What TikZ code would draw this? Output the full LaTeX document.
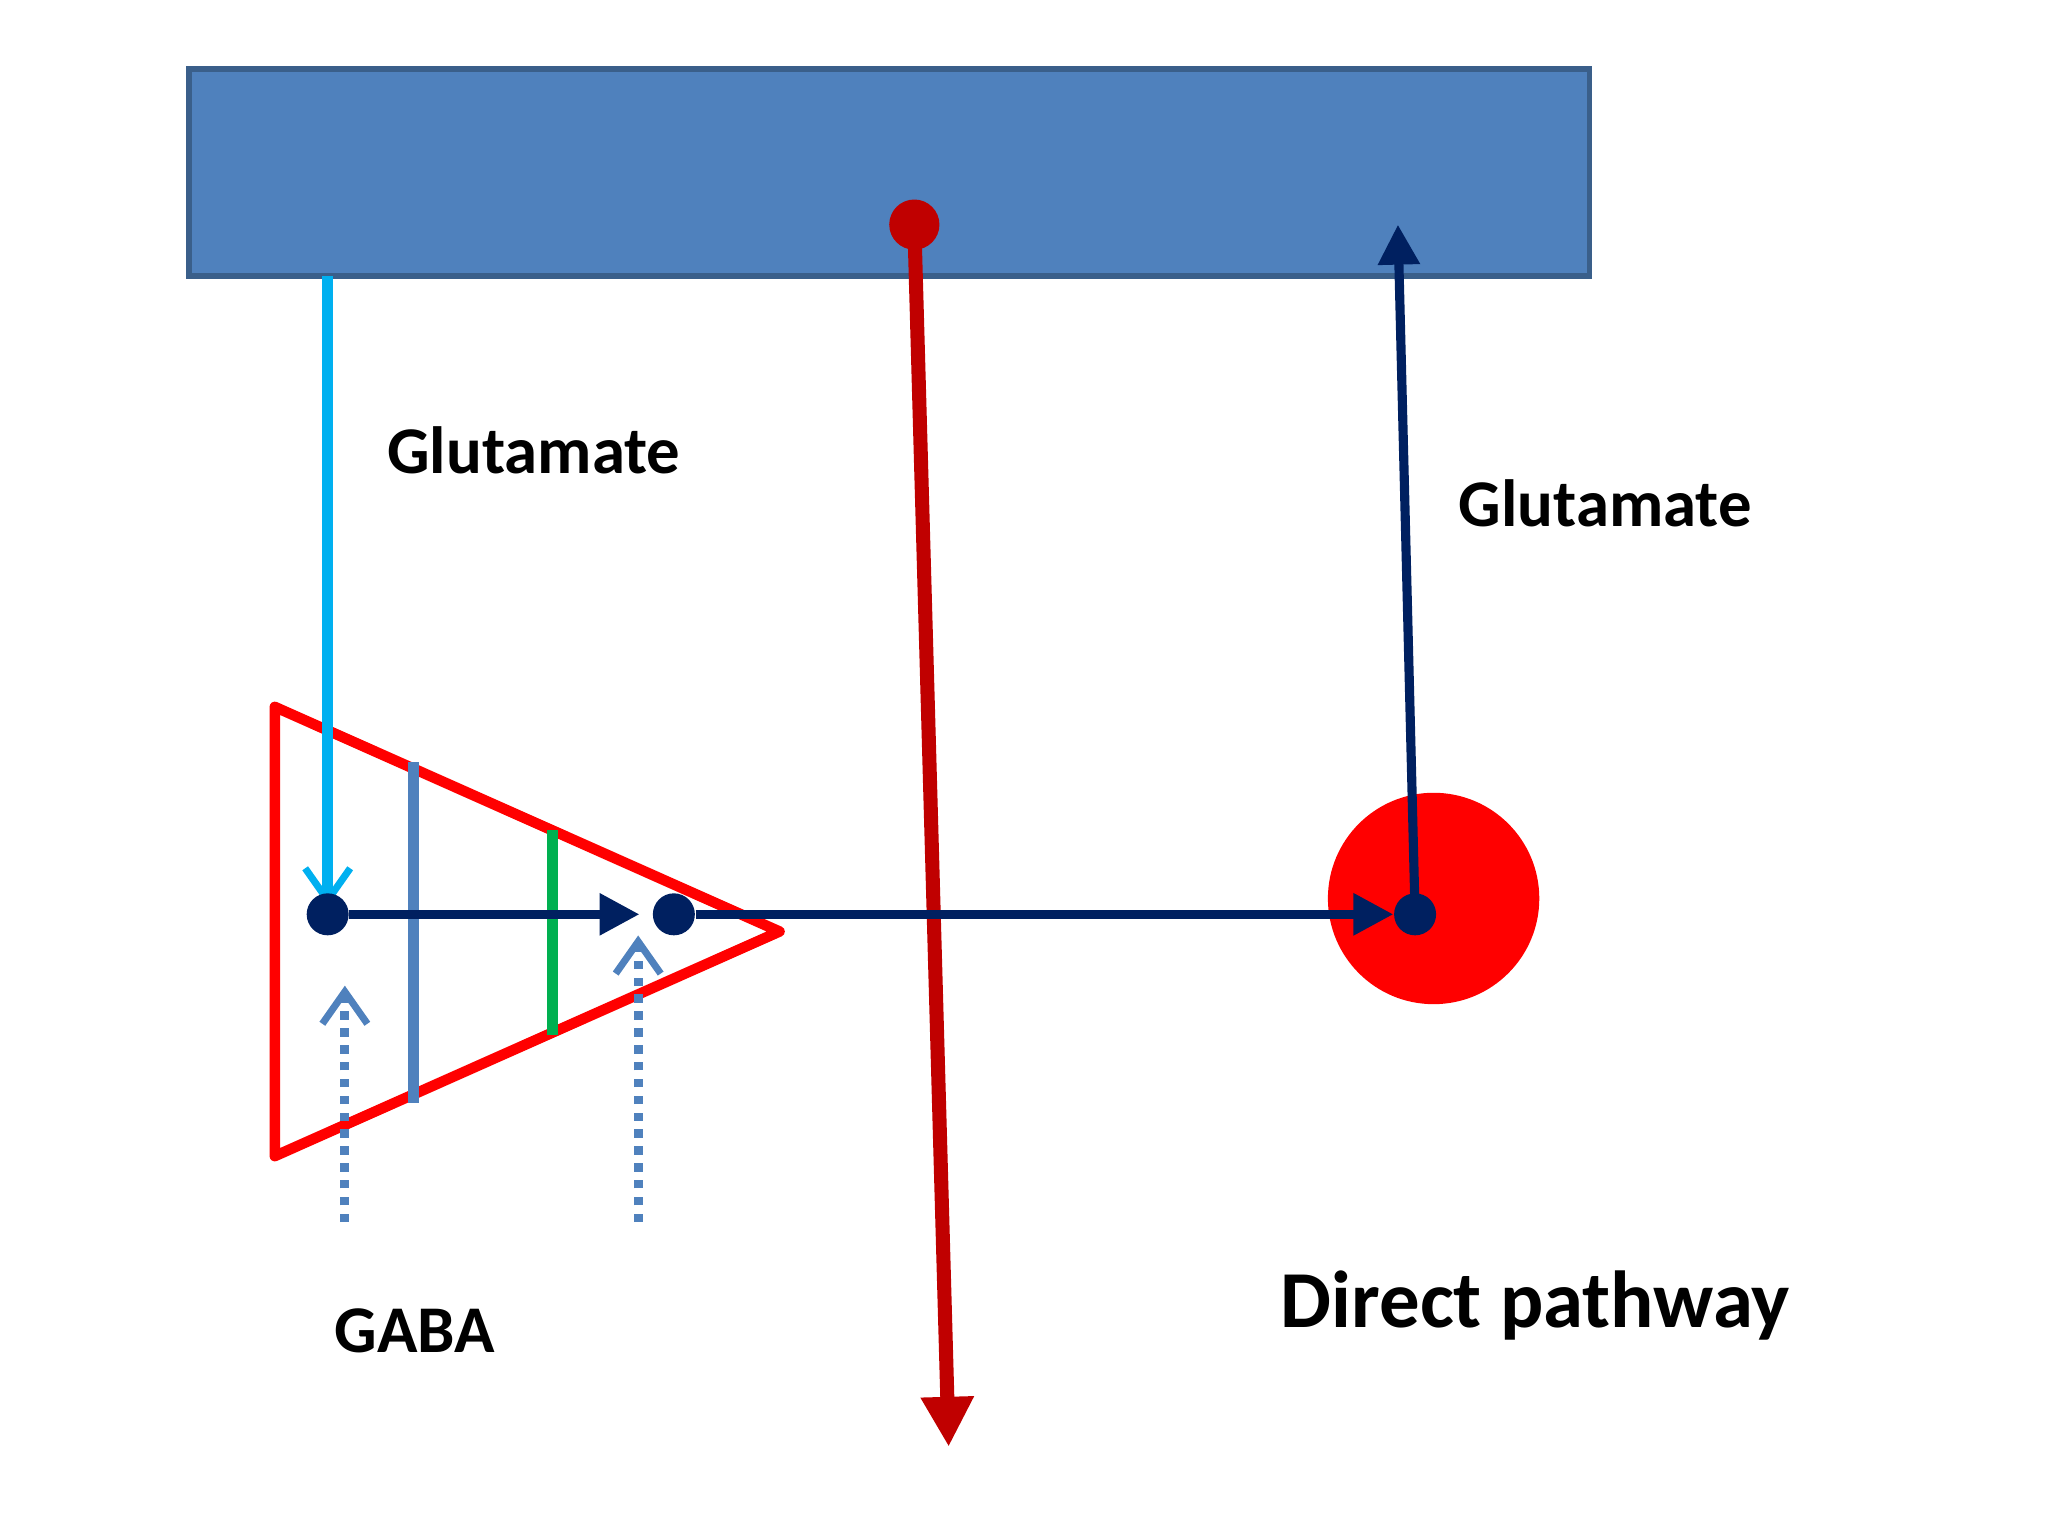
\documentclass[tikz,border=0pt]{standalone}
\usepackage{fontspec}
\setmainfont{Carlito}
\usetikzlibrary{arrows.meta}
\definecolor{barblue}{HTML}{4F81BD}
\definecolor{bardraw}{HTML}{3A5F8A}
\definecolor{darkred}{HTML}{C00000}
\definecolor{navy}{HTML}{002060}
\definecolor{cyanline}{HTML}{00B0F0}
\definecolor{greenline}{HTML}{00B050}
\tikzset{
    label text/.style={font=\bfseries\fontsize{19}{22}\selectfont},
    axon/.style={navy,line width=2.6pt},
    dot/.style={circle,fill=navy,inner sep=0pt,minimum size=0.42cm},
    open tip/.style={-{Straight Barb[length=0.32cm,width=0.45cm,line width=2pt]}},
}
\begin{document}
\begin{tikzpicture}[x=0.013213cm,y=-0.013213cm]
    \useasboundingbox (0,0) rectangle (1550,1162);

    % cortex bar
    \draw[fill=barblue,draw=bardraw,line width=1.6pt] (143,52) rectangle (1203,209);

    % striatal neuron
    \draw[red,line width=3pt,line join=round] (208,535) -- (590,705) -- (208,875) -- cycle;
    \draw[barblue,line width=3pt] (313,577) -- (313,835);
    \draw[greenline,line width=3pt] (418,628) -- (418,783);

    % target neuron
    \fill[red] (1085,680) circle[radius=80];

    % descending red axon
    \coordinate (redtop) at (692,170);
    \coordinate (redend) at (718,1095);
    \draw[darkred,line width=4pt,-{Triangle[length=0.5cm,width=0.5cm]}] (redtop) -- (redend);
    \fill[darkred] (redtop) circle[radius=19];

    % glutamate input
    \coordinate (cxin) at (248,209);
    \coordinate (cxtip) at (248,686);
    \draw[cyanline,line width=3.2pt,open tip] (cxin) -- (cxtip);

    % GABA inputs
    \coordinate (gaa) at (261,925);
    \coordinate (gab) at (261,746);
    \coordinate (gba) at (483,925);
    \coordinate (gbb) at (483,708);
    \draw[barblue,line width=2.6pt,dash pattern=on 2.4pt off 2.4pt,open tip] (gaa) -- (gab);
    \draw[barblue,line width=2.6pt,dash pattern=on 2.4pt off 2.4pt,open tip] (gba) -- (gbb);

    % dots and axons
    \node[dot] (d1) at (248,692) {};
    \node[dot] (d2) at (510,692) {};
    \node[dot] (d3) at (1071,692) {};
    \coordinate (ctxout) at (1058,170);
    \draw[axon,-{Triangle[length=0.4cm,width=0.4cm]}] (d1) -- (484,692);
    \draw[axon,-{Triangle[length=0.4cm,width=0.4cm]}] (d2) -- (d3.west);
    \draw[axon,-{Triangle[length=0.4cm,width=0.4cm]}] (d3.center) -- (ctxout);

    % labels
    \node[label text] (glu1) at (404,341) {Glutamate};
    \node[label text] (glu2) at (1215,381) {Glutamate};
    \node[label text] (gaba) at (314,1007) {GABA};
    \node[font=\bfseries\fontsize{23}{28}\selectfont] (direct) at (1162,988) {Direct pathway};
\end{tikzpicture}
\end{document}
